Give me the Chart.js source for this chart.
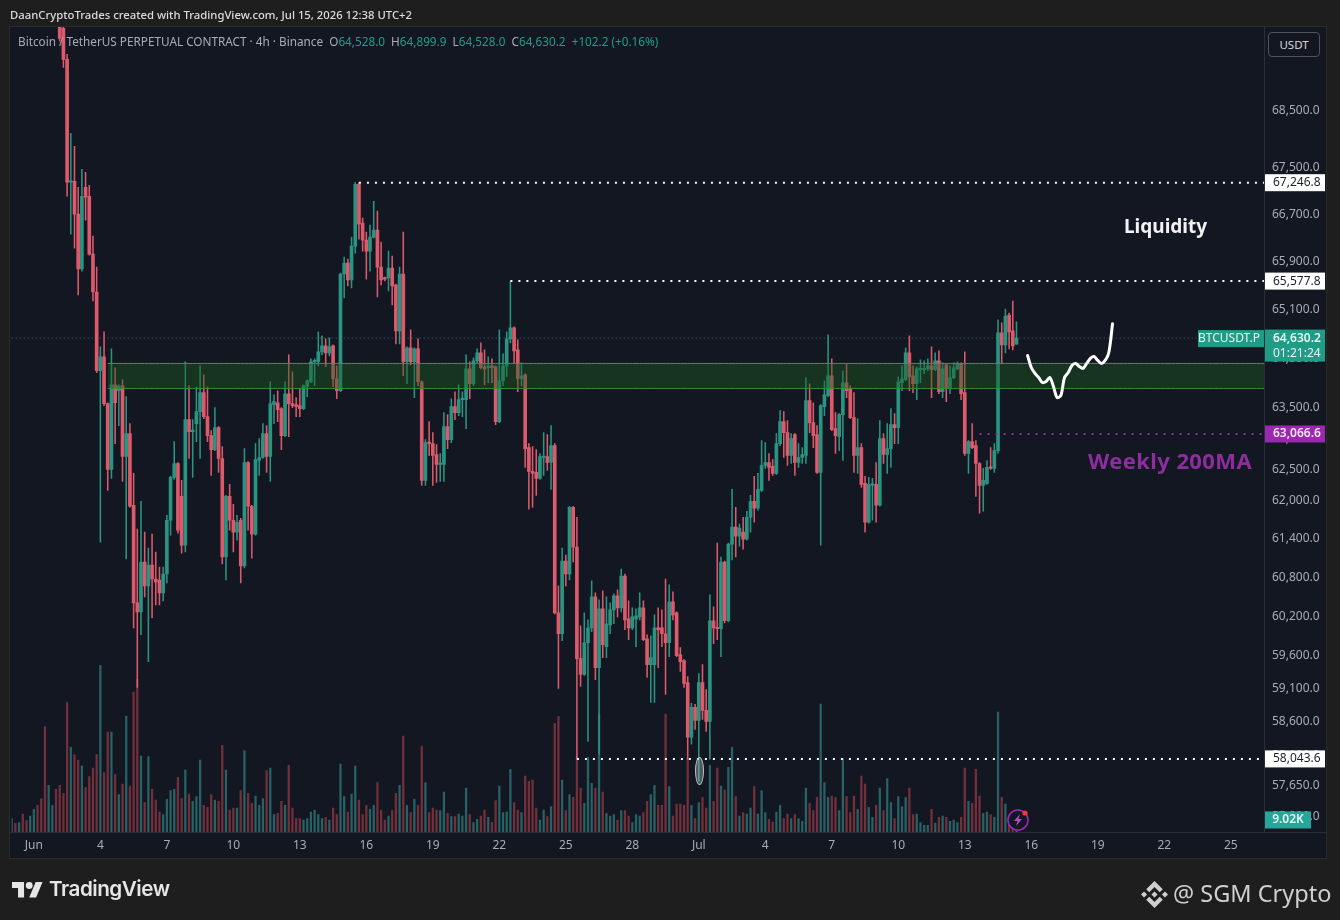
<!DOCTYPE html>
<html lang="en">
<head>
    <meta charset="UTF-8">
    <title>BTCUSDT.P 4h</title>
    <script src="https://cdn.jsdelivr.net/npm/chart.js"></script>
    <style>
        body {
            margin: 0;
            width: 1340px;
            height: 920px;
            overflow: hidden;
            background-color: #1e1e1e;
            font-family: "Noto Sans", sans-serif;
            position: relative;
        }
        #panel {
            position: absolute;
            left: 10px;
            top: 27px;
            width: 1316px;
            height: 831px;
            background-color: #131722;
            box-shadow: 0 0 0 1px #2b2b2b;
        }
        #axisLine {
            position: absolute;
            left: 10px;
            top: 832px;
            width: 1316px;
            height: 1px;
            background-color: #2a2e39;
        }
        canvas { position: absolute; left: 0; top: 0; }
        .txt { position: absolute; white-space: nowrap; }
        #header { left: 10px; top: 7px; font-size: 11.3px; font-weight: 500; color: #dcdcdc; }
        #legend { left: 18px; top: 33px; font-size: 11.75px; color: #a9acb5; }
        #legend b { font-weight: 400; color: #1f9d8b; }
        #liquidity { left: 1124px; top: 213px; font-size: 19px; font-weight: 700; color: #f2f2f2; }
        #weekly { left: 1088px; top: 445px; font-size: 22px; font-weight: 700; color: #8e2da0; letter-spacing: 0.4px; }
        #usdt {
            left: 1268px; top: 32px; width: 50px; height: 23px; line-height: 23px;
            text-align: center; font-size: 11.5px; color: #d6d6d6;
            border: 1px solid #50535e; border-radius: 4px; background-color: #131722;
        }
        #tvText { left: 49px; top: 876px; font-size: 20.7px; font-weight: 600; color: #e6e6e6; font-family: Inter, sans-serif; letter-spacing: -0.5px; }
        #sgm { left: 1173px; top: 877px; font-size: 23.5px; color: #cfcfcf; }
        #tvLogo { position: absolute; left: 12px; top: 882px; }
        #bnbLogo { position: absolute; left: 1141px; top: 881px; }
        #bolt { position: absolute; left: 1006px; top: 808px; }
        #wickMark {
            position: absolute; left: 695px; top: 757px; width: 7px; height: 26px;
            border: 1px solid #b8c4c4; border-radius: 50%; background-color: rgba(150,170,170,0.45);
        }
    </style>
</head>
<body>
    <div id="panel"></div>
    <div id="axisLine"></div>
    <canvas id="myChart" width="1340" height="920"></canvas>

    <div id="header" class="txt">DaanCryptoTrades created with TradingView.com, Jul 15, 2026 12:38 UTC+2</div>
    <div id="legend" class="txt">Bitcoin / TetherUS PERPETUAL CONTRACT · 4h · Binance &nbsp;O<b>64,528.0</b> &nbsp;H<b>64,899.9</b> &nbsp;L<b>64,528.0</b> &nbsp;C<b>64,630.2</b> &nbsp;<b>+102.2 (+0.16%)</b></div>
    <div id="usdt" class="txt">USDT</div>
    <div id="liquidity" class="txt">Liquidity</div>
    <div id="weekly" class="txt">Weekly 200MA</div>
    <div id="wickMark"></div>

    <svg id="bolt" width="24" height="24" viewBox="0 0 24 24">
        <circle cx="12" cy="12" r="10" fill="#131722" stroke="#9c27b0" stroke-width="1.6"/>
        <path d="M14 6 L8 13 L11.5 13 L10 18 L16 11 L12.5 11 Z" fill="#b04cc4"/>
        <circle cx="19" cy="5" r="2.6" fill="#f23645"/>
    </svg>

    <svg id="tvLogo" width="31" height="15.5" viewBox="0 4 36 18">
        <path fill="#e6e6e6" d="M14 22H7V11H0V4h14v18zM28 22h-8l7.5-18h8L28 22z"/>
        <circle fill="#e6e6e6" cx="20" cy="8" r="4"/>
    </svg>
    <div id="tvText" class="txt">TradingView</div>

    <svg id="bnbLogo" width="27" height="27" viewBox="0 0 32 32">
        <path fill="#cfcfcf" d="M9.79 13.44 16 7.23l6.21 6.22 3.62-3.61L16 0 6.17 9.83zM0 16l3.62-3.61L7.23 16l-3.61 3.62zm9.79 2.56L16 24.77l6.21-6.22 3.62 3.6L16 32l-9.83-9.83-.01-.01zM24.77 16l3.61-3.61L32 16l-3.62 3.62zM19.67 16 16 12.33 13.29 15.04l-.31.31-.64.64L16 19.67 19.67 16z"/>
    </svg>
    <div id="sgm" class="txt">@ SGM Crypto</div>

    <script>
        // candles, 4h each. the first ones sit above the top of the chart
        const opens = [
            71380,71450,71400,71430,71330,71290,71330,71380,71280,71150,70700,70850,70930,
            70600,69950,69398,67254,67271,66708,65780,
            67168,67015,66032,65395,64093,64322,63556,62498,63865,63767,
            63848,62705,63073,61929,60404,60265,61037,60666,60990,60773,
            60758,60558,60851,61692,62371,62593,62070,61301,63298,63105,
            63234,63427,63735,63347,63040,62816,63169,62673,61115,62070,
            61692,61505,61692,60975,62609,61913,61473,62641,62689,63073,
            62705,63540,63572,63476,63040,63718,63556,63540,63524,63476,
            63832,63914,64240,64240,64404,64502,64387,64502,63962,63767,
            65696,65880,65596,66166,67220,66555,66267,66082,66318,66437,
            65813,65629,65629,65796,65512,64749,65696,64240,64469,64240,
            64453,63914,62323,62928,62912,62737,62577,62577,63185,62976,
            63508,63411,63621,63621,64125,63881,64256,64387,64158,64142,
            64174,64158,63266,63930,64174,64617,64799,64436,63962,64028,
            62848,62466,62450,62355,62689,62705,62609,62880,60250,59929,
            61053,60851,61897,61270,59550,59308,59792,60020,60496,59414,
            60311,59732,60066,60296,60512,60327,60820,60158,60020,60158,
            60189,60327,59853,59459,59459,60020,60020,59929,59792,60419,
            60250,59610,59520,59187,58365,58812,58618,59187,58767,58603,
            60128,60020,60005,61037,60128,61317,61583,61442,61505,61395,
            61739,61991,61881,62165,62561,62609,62546,62434,62912,63266,
            63089,62720,63056,62609,62689,62720,63605,63250,63056,62450,
            63508,63686,64012,63153,63024,63379,63897,63800,63331,62720,
            62848,62276,61661,62244,62260,61929,62992,62737,62832,63218,
            63169,63897,63946,64387,64012,63881,64109,64109,64125,64174,
            64109,64256,63751,64190,63816,63979,64125,64207,63735,62753,
            62944,62880,62593,62244,62276,62530,62514,62800,64716,64518,
            65013,64749,64528
        ];
        const closes = [
            71450,71400,71430,71330,71290,71330,71380,71280,71150,70700,70850,70930,70600,
            69770,69398,67254,67271,66708,65780,67015,
            66997,66032,65395,64093,64322,63556,62498,63865,63572,63848,
            62705,63073,61913,60404,60265,61037,60666,60990,60773,60727,
            60558,60851,61692,62371,62593,61536,61301,63298,63105,63121,
            63427,63735,63347,63040,62816,63169,62673,61115,62070,61692,
            61505,61661,60975,62609,61913,61473,62657,62689,63073,62705,
            63556,63589,63459,63040,63718,63556,63524,63508,63476,63848,
            63930,64240,64256,64404,64502,64387,64485,63962,63767,65696,
            65880,65596,66166,67220,66538,66267,66082,66318,66437,65813,
            65596,65612,65796,65496,64749,65696,64240,64469,64240,64453,
            63914,62323,62928,62912,62720,62577,62593,63185,62976,63508,
            63411,63621,63637,64125,63881,64256,64387,64142,64125,64174,
            64142,63266,63930,64174,64617,64799,64420,63962,64012,62832,
            62466,62434,62355,62705,62705,62609,62880,60250,59929,61053,
            60851,61897,61270,59550,59308,59792,60020,60496,59414,60311,
            59762,60082,60296,60512,60327,60820,60143,60020,60189,60204,
            60327,59838,59459,59565,60020,59990,59929,59792,60419,60219,
            59595,59505,59172,58365,58812,58618,59187,58767,58603,60128,
            60020,60005,61037,60128,61317,61583,61442,61567,61395,61739,
            61991,61881,62181,62561,62609,62530,62434,62912,63266,63089,
            62720,62992,62609,62689,62737,63605,63250,63040,62450,63524,
            63702,64012,63137,63040,63379,63897,63767,63331,62720,62848,
            62260,61661,62260,62260,61929,62992,62737,62832,63218,63169,
            63914,63962,64387,63995,63881,64125,64125,64125,64174,64109,
            64256,63751,64125,63816,63979,64142,64207,63718,62753,62944,
            62848,62593,62244,62323,62530,62514,62800,64716,64518,64996,
            64733,64502,64630.2
        ];
        const highs = [
            71500,71500,71480,71480,71380,71380,71430,71430,71330,71200,70900,70980,70980,
            70700,70100,69487,68099,67874,67168,67477,
            67426,67203,66335,65813,64485,64733,63572,64453,64142,63865,
            63946,63670,63234,62434,61552,61991,61505,61255,61473,61193,
            60959,60959,61771,62387,62944,62609,62323,64240,63848,63298,
            63832,64174,64028,63832,63121,63492,63185,62864,62086,62260,
            61944,61771,61724,62832,62625,61929,62912,62992,63234,63201,
            63914,63702,63767,63492,63914,64354,64077,63654,63800,63865,
            63946,64289,64289,64733,64667,64617,64634,64518,64174,65713,
            65981,65948,66318,67247,67247,66640,66403,66521,66929,66759,
            66234,65646,66082,65998,65529,65813,66403,64485,64766,64469,
            64617,63930,62976,63266,63089,62896,62753,63411,63379,63637,
            63751,63865,63751,64354,64240,64305,64453,64551,64436,64322,
            64289,64174,64766,64371,64733,65578,64815,64600,64223,64044,
            62912,62864,62816,62753,63089,63056,63201,62912,60666,61255,
            61146,61913,61913,61739,60051,60250,60143,60743,60558,60450,
            60589,60496,60404,60543,60604,60929,60851,60435,60327,60311,
            60558,60435,59914,59899,60219,60327,60296,60773,60681,60573,
            60265,59716,59535,59278,58872,58857,59323,59459,59082,60527,
            60342,61332,61115,61053,61332,62181,61897,61630,61739,61834,
            62086,62387,62434,62960,62928,62753,62657,63073,63443,63427,
            63282,63073,63073,62912,62848,63979,63881,63572,63201,63540,
            63930,64683,64289,63411,63395,64093,64207,63848,63735,63314,
            62912,62387,62371,62355,62609,63282,63073,63234,63476,63395,
            63995,64174,64469,64667,64174,64158,64272,64256,64289,64485,
            64387,64420,64223,64207,64174,64223,64240,64223,64404,62960,
            63234,62960,62609,62514,62641,62848,62912,64931,64881,65112,
            65046,65245,64899.9
        ];
        const lows = [
            71330,71350,71350,71280,71240,71240,71280,71230,71100,70650,70650,70800,70550,
            69720,69256,67015,66369,66132,65345,65746,
            66606,66015,65245,64060,61348,63524,62165,62355,62912,63201,
            62307,61084,61897,60020,59112,59914,60496,59505,60174,60373,
            60373,60435,60712,61457,62339,61489,61177,61193,62673,62371,
            62944,62673,63314,62944,62402,62800,62450,61006,60758,61536,
            61193,61379,60712,60944,61536,61099,61457,62402,62673,62450,
            62307,63234,63266,62816,63024,63024,63492,63347,63347,63459,
            63670,63897,63848,64174,64354,64158,64338,63832,63637,63751,
            65295,65496,65462,66048,66284,66082,65612,65746,66301,65312,
            65512,65579,65412,65179,64535,64535,64012,63881,64190,63654,
            63848,62244,62244,62720,62244,62291,62307,62307,62832,62928,
            63298,63363,63347,63153,63637,63848,64223,64125,63865,63897,
            63897,63218,63250,63848,63995,64551,64223,63751,63848,62530,
            61866,61897,62086,62339,62402,62482,62181,60235,59097,59823,
            60666,60758,61037,58044,59127,59293,58305,59960,59232,58114,
            59565,59565,59929,60082,60189,60265,59990,59838,59990,59732,
            60143,59823,59263,58887,58887,59414,59732,59007,59580,60143,
            59580,59354,59112,58040,58262,58484,57716,58633,58454,58040,
            59777,59838,59580,60097,60112,61068,61115,61286,61239,61379,
            61505,61661,61850,62149,62514,62323,62402,62418,62880,62689,
            62561,62593,62402,62530,62593,62593,63089,62848,62434,61301,
            63363,63670,63121,62753,62800,62641,63654,63314,62450,62434,
            62212,61505,61645,61692,61661,61913,62593,62434,62530,62912,
            62912,63767,63930,63767,63735,63621,63897,64044,64093,63654,
            64093,63718,63654,63589,63718,63962,64109,63621,62720,62434,
            62832,62070,61803,61834,62260,62498,62450,62753,64207,64387,
            64453,64436,64528
        ];
        // volume in thousands
        const volumes = [
            10,6.5,7,13.5,8.5,12,17,20,25,79,
            35,20,32,35,29,97,63.5,58,54,49.5,
            33.5,41.5,48,58,125,44.5,75,75,43,28,
            36,87,34.5,105,114.5,57,22,56.5,32,24,
            15,13,24.5,31,32,41,25,46.5,28.5,23,
            26.5,54,20,18.5,28,24,23,65,46.5,16.5,
            18,18,31,61,29,21.5,27,20,25,46,
            48,13,14,23,20,50,18,10,10,9,
            10,15,16.5,13,10,11,9,18,13,51,
            26.5,15,28.5,49.5,24,13,20,17,20,37,
            16.5,9,12,16,29,35,72,20,14.5,24.5,
            20,64.5,37,14.5,18,16.5,16,30,14,11.5,
            11.5,13.5,12,33,13,7,9.5,12,16.5,11,
            7,23.5,34.5,14.5,15,47,22,16.5,14.5,42,
            38,39,18,9,16.5,11.5,19,81.5,86.5,39,
            16,28,26,56.5,33,21.5,56,36.5,33,88,
            30,14,12,13,9,16,16,12,7,13,
            12,14.5,23,28,35,20,20,88.5,34,12,
            21,21,20,55,20,10,22,26,18,50,
            23,48,34.5,31.5,48.5,63.5,26.5,12,14.5,13.5,
            18,34,13.5,31,14.5,9.5,7.5,15,20,10,
            13.5,10,13,10,8,33,21.5,16,26,96,
            37,26,27,26,16,55,26.5,14.5,27,17,
            42,36,18.5,11,20,33,16,40,22,10,
            26.5,19,26,33,13,13.5,7,5,5,17,
            6.5,11,12,11,8,9,7,11,48,23,
            21.5,47,27,14,15,13,11,90,26,21,
            10,9,9.02
        ];

        // axis labels
        const dayLabels = ['Jun','4','7','10','13','16','19','22','25','28','Jul','4','7','10','13','16','19','22','25'];
        const priceTicks = [68500,67500,66700,65900,65100,64300,63500,63000,62500,62000,61400,60800,60200,59600,59100,58600,58100,57650,57200];

        // horizontal levels drawn on the chart
        const highLevel = 67246.8;
        const midLevel = 65577.8;
        const lowLevel = 58043.6;
        const maLevel = 63066.6;
        const lastPrice = 64630.2;
        const lastVolume = 9.02;
        const zoneTop = 64213;
        const zoneBottom = 63804;

        // hand drawn path, starts at candle slot 275
        const sketchStart = 275;
        const sketchPrices = [64344,64147,64049,63983,63901,63918,63983,63836,63655,63688,63983,64065,64180,64213,64164,64131,64213,64295,64328,64262,64213,64262,64393,64869];

        const slotCount = 340;
        const firstDaySlot = 6;
        const slotsPerTick = 18;

        const red = '#dc5a6b';
        const green = '#2a9482';
        const volRed = '#74303a';
        const volGreen = '#286264';

        // x categories, one slot per 4h, only every 3rd day has a label
        const categories = Array.from({ length: slotCount }, (_, i) => {
            const k = (i - firstDaySlot) / slotsPerTick;
            return Number.isInteger(k) && dayLabels[k] ? dayLabels[k] : '';
        });

        const isUp = i => closes[i] >= opens[i];
        const fromSlot = (start, value) => categories.map((_, i) => i >= start ? value : null);
        const fmt = v => v.toLocaleString('en-US', { minimumFractionDigits: 1, maximumFractionDigits: 1 });

        const sketchData = categories.map((_, i) => {
            const v = sketchPrices[i - sketchStart];
            return v === undefined ? null : v;
        });

        // price tags and the volume tag on the right hand side
        const tagPlugin = {
            id: 'tags',
            afterDraw(chart) {
                const c = chart.ctx;
                const y = chart.scales.y;
                const vol = chart.scales.vol;
                const left = y.left + 1;
                c.save();
                c.font = '12px "Noto Sans"';
                c.textBaseline = 'middle';

                const tag = (value, bg, fg, weight) => {
                    const py = y.getPixelForValue(value);
                    c.fillStyle = bg;
                    c.fillRect(left, py - 8.5, 60, 17);
                    c.fillStyle = fg;
                    c.font = (weight || '400') + ' 12px "Noto Sans"';
                    c.textAlign = 'left';
                    c.fillText(fmt(value), left + 8, py);
                };
                tag(highLevel, '#ffffff', '#1c1f27');
                tag(midLevel, '#ffffff', '#1c1f27');
                tag(lowLevel, '#ffffff', '#1c1f27');
                tag(maLevel, '#9c27b0', '#f4e6f7', '600');

                // last price with countdown
                const py = y.getPixelForValue(lastPrice);
                c.fillStyle = '#1f9b86';
                c.fillRect(left, py - 8.5, 60, 32);
                c.fillRect(y.left - 66, py - 8, 66, 17);
                c.fillStyle = '#e8f5f2';
                c.font = '600 12px "Noto Sans"';
                c.fillText(fmt(lastPrice), left + 8, py + 0.5);
                c.font = '12px "Noto Sans"';
                c.fillText('01:21:24', left + 8, py + 15);
                c.textAlign = 'right';
                c.fillText('BTCUSDT.P', y.left - 4, py + 0.5);

                // volume
                const vy = vol.getPixelForValue(lastVolume);
                c.fillStyle = '#26a69a';
                c.fillRect(left, vy - 8.5, 46, 17);
                c.fillStyle = '#e8f5f2';
                c.font = '600 12px "Noto Sans"';
                c.textAlign = 'center';
                c.fillText(lastVolume.toFixed(2) + 'K', left + 23, vy);
                c.restore();
            }
        };

        const ctx = document.getElementById('myChart').getContext('2d');
        new Chart(ctx, {
            type: 'bar',
            plugins: [tagPlugin],
            data: {
                labels: categories,
                datasets: [
                    {
                        label: 'Volume',
                        yAxisID: 'vol',
                        data: volumes,
                        backgroundColor: volumes.map((_, i) => isUp(i) ? volGreen : volRed),
                        barThickness: 1.6,
                        grouped: false,
                        order: 6
                    },
                    {
                        label: 'Wick',
                        data: highs.map((h, i) => [lows[i], h]),
                        backgroundColor: highs.map((_, i) => isUp(i) ? green : red),
                        barThickness: 0.9,
                        grouped: false,
                        order: 5
                    },
                    {
                        label: 'Body',
                        data: opens.map((o, i) => [o, closes[i]]),
                        backgroundColor: opens.map((_, i) => isUp(i) ? green : red),
                        barThickness: 3,
                        minBarLength: 1.5,
                        grouped: false,
                        order: 4
                    },
                    {
                        type: 'line',
                        label: 'Zone top',
                        data: fromSlot(26, zoneTop),
                        borderColor: '#3e9c3e',
                        borderWidth: 1,
                        backgroundColor: 'rgba(27,94,32,0.42)',
                        fill: '+1',
                        pointRadius: 0,
                        order: 3
                    },
                    {
                        type: 'line',
                        label: 'Zone bottom',
                        data: fromSlot(26, zoneBottom),
                        borderColor: '#3e9c3e',
                        borderWidth: 1,
                        fill: false,
                        pointRadius: 0,
                        order: 3
                    },
                    {
                        type: 'line',
                        label: 'Last price',
                        data: fromSlot(0, lastPrice),
                        borderColor: 'rgba(110,160,155,0.6)',
                        borderWidth: 1,
                        borderDash: [1, 3],
                        pointRadius: 0,
                        order: 2
                    },
                    {
                        type: 'line',
                        label: 'High',
                        data: fromSlot(94, highLevel),
                        borderColor: '#ffffff',
                        borderWidth: 2,
                        borderDash: [2, 6],
                        pointRadius: 0,
                        order: 2
                    },
                    {
                        type: 'line',
                        label: 'Mid',
                        data: fromSlot(135, midLevel),
                        borderColor: '#ffffff',
                        borderWidth: 2,
                        borderDash: [2, 6],
                        pointRadius: 0,
                        order: 2
                    },
                    {
                        type: 'line',
                        label: 'Low',
                        data: fromSlot(153, lowLevel),
                        borderColor: '#ffffff',
                        borderWidth: 2,
                        borderDash: [2, 6],
                        pointRadius: 0,
                        order: 2
                    },
                    {
                        type: 'line',
                        label: 'Weekly 200MA',
                        data: fromSlot(262, maLevel),
                        borderColor: '#9c27b0',
                        borderWidth: 2,
                        borderDash: [2, 6],
                        pointRadius: 0,
                        order: 2
                    },
                    {
                        type: 'line',
                        label: 'Sketch',
                        data: sketchData,
                        borderColor: '#ffffff',
                        borderWidth: 3,
                        tension: 0.3,
                        borderCapStyle: 'round',
                        pointRadius: 0,
                        order: 1
                    }
                ]
            },
            options: {
                responsive: false,
                animation: false,
                layout: { padding: { left: 11.7, top: 27, right: 14, bottom: 62 } },
                plugins: {
                    legend: { display: false },
                    tooltip: { enabled: false }
                },
                scales: {
                    x: {
                        offset: false,
                        grid: { display: false, drawTicks: false },
                        border: { display: false },
                        afterFit(scale) { scale.height = 26; },
                        ticks: {
                            autoSkip: false,
                            maxRotation: 0,
                            padding: 6,
                            color: '#a9acb5',
                            font: { family: 'Noto Sans', size: 12 }
                        }
                    },
                    y: {
                        type: 'logarithmic',
                        position: 'right',
                        min: 56970,
                        max: 69975,
                        grid: { display: false, drawTicks: false },
                        border: { color: '#2a2e39' },
                        afterFit(scale) { scale.width = 62; },
                        afterBuildTicks(scale) { scale.ticks = priceTicks.map(v => ({ value: v })); },
                        ticks: {
                            autoSkip: false,
                            padding: 8,
                            color: '#a9acb5',
                            font: { family: 'Noto Sans', size: 12 },
                            callback: v => fmt(v)
                        }
                    },
                    vol: {
                        type: 'linear',
                        display: false,
                        min: 0,
                        max: 603.75
                    }
                }
            }
        });
    </script>
</body>
</html>
